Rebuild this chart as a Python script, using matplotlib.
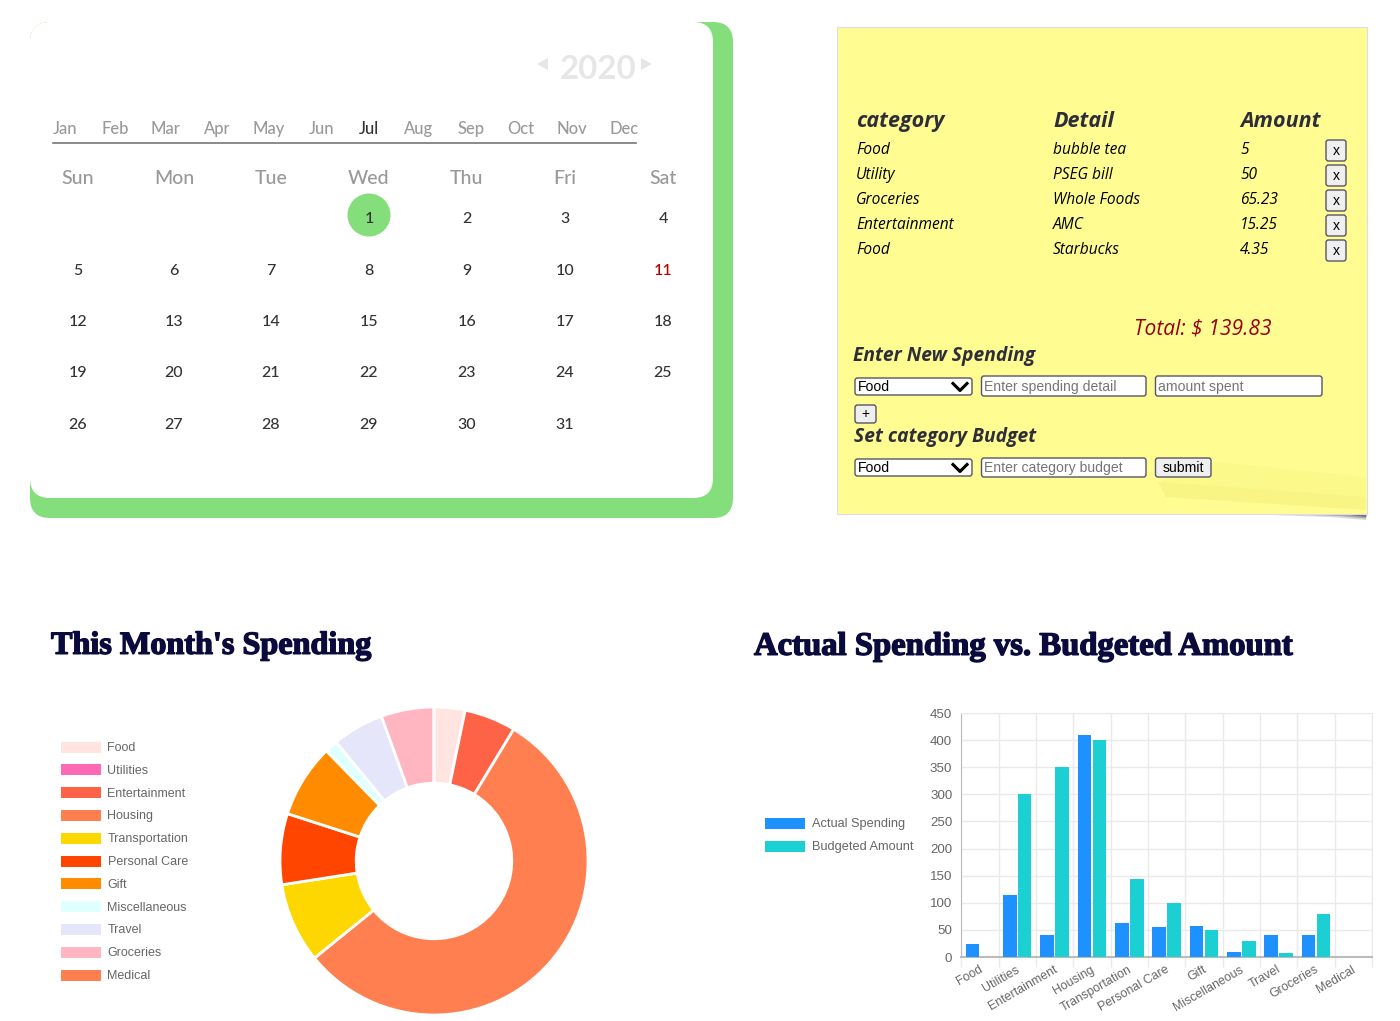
import numpy as np
from matplotlib import pyplot as plt
from matplotlib import patheffects
from matplotlib.patches import Circle, FancyBboxPatch, Polygon, Rectangle

# chart data
categories = ["Food", "Utilities", "Entertainment", "Housing", "Transportation", "Personal Care",
              "Gift", "Miscellaneous", "Travel", "Groceries", "Medical"]
actual_spending = [24, 115, 40, 410, 62, 55, 57, 10, 40, 41, 0]
budgeted_amount = [0, 300, 350, 400, 143, 100, 50, 30, 7, 80, 0]
month_spending = [24, 0, 40, 410, 62, 55, 57, 10, 40, 41, 0]
slice_colors = ["#FFE4E1", "#FF69B4", "#FF6347", "#FF7F50", "#FFD700", "#FF4500",
                "#FF8C00", "#E0FFFF", "#E6E6FA", "#FFB6C1", "#FF7F50"]

# calendar data
months = ["Jan", "Feb", "Mar", "Apr", "May", "Jun", "Jul", "Aug", "Sep", "Oct", "Nov", "Dec"]
week_days = ["Sun", "Mon", "Tue", "Wed", "Thu", "Fri", "Sat"]
first_weekday = 3
days_in_month = 31

# spending table data
table_categories = ["Food", "Utility", "Groceries", "Entertainment", "Food"]
table_details = ["bubble tea", "PSEG bill", "Whole Foods", "AMC", "Starbucks"]
table_amounts = ["5", "50", "65.23", "15.25", "4.35"]

W, H = 1400, 1021
HAND = "Open Sans"
BROWSER = "Liberation Sans"
CAL = "Lato"

fig = plt.figure(figsize=(W / 100, H / 100), dpi=100, facecolor="white")

# axes in picture pixels, y going down, for everything that is page furniture
page = fig.add_axes([0, 0, 1, 1])
page.set_xlim(0, W)
page.set_ylim(H, 0)
page.axis("off")


def px_axes(left, top, right, bottom):
    return fig.add_axes([left / W, 1 - bottom / H, (right - left) / W, (bottom - top) / H])


def label(x, y, s, size, color="black", ha="left", family=BROWSER, **kw):
    # va center sits a little high compared to the browser text
    return page.text(x, y + 1.8, s, fontsize=size * 0.72, color=color, ha=ha, va="center", family=family, **kw)


def rounded(left, top, right, bottom, radius, face, edge="none", lw=1.0, zorder=2):
    page.add_patch(FancyBboxPatch((left + radius, top + radius), right - left - 2 * radius,
                                  bottom - top - 2 * radius, boxstyle="round,pad=%s,rounding_size=%s" % (radius, radius),
                                  fc=face, ec=edge, lw=lw, zorder=zorder))


# calendar card
rounded(30, 22, 733, 518, 20, "#84DE7C", zorder=1)
rounded(30, 22, 713, 498, 20, "white", zorder=2)

label(598, 67.5, "2020", 33, "#E6E6E6", ha="center", family=CAL, fontweight="bold", zorder=3)
page.add_patch(Polygon([[548, 58], [548, 70], [537, 64]], fc="#E6E6E6", ec="none", zorder=3))
page.add_patch(Polygon([[641, 58], [641, 70], [652, 64]], fc="#E6E6E6", ec="none", zorder=3))

month_x = [65, 115, 165, 217, 269, 322, 369, 419, 471, 521, 572, 624]
for m, x in zip(months, month_x):
    current = m == "Jul"
    label(x, 127.5, m, 16.5, "#333333" if current else "#999999", ha="center", family=CAL, fontweight="medium", zorder=3)
page.plot([53, 636], [143.5, 143.5], color="#777777", lw=1.2, zorder=3)

day_x = [78, 174, 271, 369, 467, 565, 663]
row_y = [217, 269, 320, 371, 423]
for d, x in zip(week_days, day_x):
    label(x, 177, d, 19.5, "#999999", ha="center", family=CAL, fontweight="medium", zorder=3)

page.add_patch(Circle((369, 215), 21.5, fc="#84DE7C", ec="none", zorder=3))
for day in range(1, days_in_month + 1):
    slot = day - 1 + first_weekday
    color = "#333333"
    if day == 11:
        color = "#B80000"
    label(day_x[slot % 7], row_y[slot // 7], str(day), 16, color, ha="center", family=CAL, fontweight="medium", zorder=4)

# sticky note, shadow under the curled corner first
for k, shade in enumerate(["#D8D8D8", "#A8A8A8", "#707070"]):
    page.add_patch(Polygon([[1245 + k * 35, 514], [1367, 511], [1366, 520 - k * 1.5], [1330 + k * 10, 517 - k]],
                           fc=shade, ec="none", zorder=1))
page.add_patch(Rectangle((837, 27), 530, 487, fc="#FFFD92", ec="#DCDCEC", lw=0.8, zorder=2))
page.add_patch(Polygon([[1215, 462], [1366, 477], [1366, 505], [1158, 482]], fc="#FCF98B", ec="none", zorder=2))
page.add_patch(Polygon([[1158, 482], [1366, 497], [1366, 510], [1166, 497]], fc="#F8F584", ec="none", zorder=2))

INK = "#2E2E3A"
for x, s in zip([856, 1053, 1240], ["category", "Detail", "Amount"]):
    label(x, 120, s, 21.5, INK, family=HAND, fontstyle="italic", fontweight="bold", zorder=3)

for i, y in enumerate([149, 174, 199, 224, 249]):
    label(856, y - 1, table_categories[i], 15.5, "black", family=HAND, fontstyle="italic", zorder=3)
    label(1053, y - 1, table_details[i], 15.5, "black", family=HAND, fontstyle="italic", zorder=3)
    label(1240, y - 1, table_amounts[i], 15.5, "black", family=HAND, fontstyle="italic", zorder=3)
    rounded(1326, y - 9, 1346, y + 12, 2.5, "#EFEFEF", "#555566", 1.0, zorder=3)
    label(1336, y, "x", 14, "black", ha="center", zorder=4)

label(1134, 327.5, "Total: $ 139.83", 21, "#990012", family=HAND, fontstyle="italic", zorder=3)
label(853, 354.5, "Enter New Spending", 19.3, INK, family=HAND, fontstyle="italic", fontweight="bold", zorder=3)
label(854, 435.5, "Set category Budget", 19.3, INK, family=HAND, fontstyle="italic", fontweight="bold", zorder=3)


def select_box(top, bottom):
    rounded(855, top, 972, bottom, 2.5, "white", "#555566", 1.0, zorder=3)
    mid = (top + bottom) / 2
    label(858, mid - 1, "Food", 14, "black", zorder=4)
    page.plot([953, 960, 967], [mid - 3, mid + 4, mid - 3], color="black", lw=2.2, zorder=4)


def input_box(left, right, top, bottom, s):
    rounded(left, top, right, bottom, 2.5, "white", "#555566", 1.0, zorder=3)
    label(left + 3, (top + bottom) / 2 - 1, s, 14, "#757575", zorder=4)


select_box(378, 395)
input_box(981.5, 1146, 376, 396, "Enter spending detail")
input_box(1155.5, 1322, 376, 396, "amount spent")
rounded(855, 405, 876, 423, 2.5, "#EFEFEF", "#555566", 1.0, zorder=3)
label(865.5, 412, "+", 14, "black", ha="center", zorder=4)
select_box(459, 476)
input_box(981.5, 1146, 458, 477, "Enter category budget")
rounded(1155.5, 458, 1211, 477, 2.5, "#EFEFEF", "#555566", 1.0, zorder=3)
label(1183.5, 466, "submit", 14, "black", ha="center", zorder=4)

# chart titles, stroked to get nearer the heavy display face
TITLE = "#0A0A3C"
heavy = [patheffects.withStroke(linewidth=1.0, foreground=TITLE)]
label(51, 644.5, "This Month's Spending", 32.2, TITLE, family="Liberation Serif", fontweight="bold", zorder=3, path_effects=heavy)
label(754, 644.5, "Actual Spending vs. Budgeted Amount", 32.7, TITLE, family="Liberation Serif", fontweight="bold", zorder=3, path_effects=heavy)

# doughnut legend
for i, name in enumerate(categories):
    y = 747 + i * 22.8
    page.add_patch(Rectangle((61, y - 5.5), 40, 11, fc=slice_colors[i], ec="none", zorder=3))
    label(107.5, y - 0.8, name, 12.5, "#666666", zorder=3)

# doughnut
pie_ax = px_axes(280, 707, 588, 1015)
pie_ax.pie(month_spending, colors=slice_colors, startangle=90, counterclock=False, radius=1,
           wedgeprops={"width": 0.495, "edgecolor": "white", "linewidth": 2})
pie_ax.set_xlim(-1, 1)
pie_ax.set_ylim(-1, 1)

# bar legend
for i, (name, color) in enumerate(zip(["Actual Spending", "Budgeted Amount"], ["#1E90FF", "#1BCFD2"])):
    y = 823.5 + i * 23
    page.add_patch(Rectangle((765, y - 5.5), 40, 11, fc=color, ec="none", zorder=3))
    label(812, y - 1, name, 12.7, "#666666", zorder=3)

# grouped bars
bar_ax = px_axes(961.3, 713, 1372, 957)
positions = np.arange(len(categories)) + 0.5
bar_ax.bar(positions - 0.2, actual_spending, width=0.36, color="#1E90FF", zorder=3)
bar_ax.bar(positions + 0.2, budgeted_amount, width=0.36, color="#1BCFD2", zorder=3)
bar_ax.set_xlim(0, len(categories))
bar_ax.set_ylim(0, 450)
bar_ax.set_yticks(np.arange(0, 451, 50))
bar_ax.set_xticks(np.arange(len(categories) + 1))
bar_ax.set_xticklabels([])
bar_ax.grid(color="#EAEAEA", lw=1, zorder=0)
bar_ax.tick_params(axis="y", length=0, labelsize=9.6, labelcolor="#666666", pad=6.5)
bar_ax.tick_params(axis="x", length=7, color="#EAEAEA", width=1)
for side in ["top", "right"]:
    bar_ax.spines[side].set_color("#EAEAEA")
bar_ax.spines["left"].set_color("#BBBBBB")
bar_ax.spines["bottom"].set_color("#BBBBBB")
bar_ax.spines["bottom"].set_linewidth(1.5)
for t in bar_ax.get_yticklabels():
    t.set_family(BROWSER)
for i, name in enumerate(categories):
    page.text(961.3 + 37.33 * (i + 0.5) - 1.5, 963.5, name, fontsize=8.9, color="#666666", family=BROWSER,
              rotation=30, ha="right", va="top", rotation_mode="anchor", zorder=3)

fig.savefig("out.png", dpi=100)
